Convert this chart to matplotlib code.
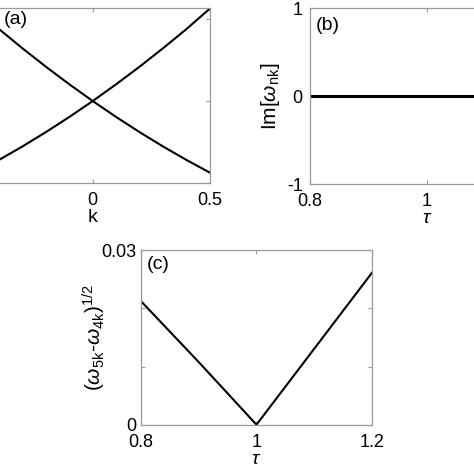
import matplotlib
matplotlib.use('Agg')
import matplotlib.pyplot as plt
import numpy as np

plt.rcParams['font.family'] = ['Liberation Sans', 'DejaVu Sans']
plt.rcParams['mathtext.fontset'] = 'custom'
plt.rcParams['mathtext.rm'] = 'Liberation Sans'
plt.rcParams['mathtext.it'] = 'Liberation Sans:italic'
plt.rcParams['font.size'] = 13

# (a) band frequencies vs k
k_vals = [-0.5, -0.4, -0.3, -0.2, -0.1, 0.0, 0.1, 0.2, 0.3, 0.4, 0.5]
omega_up = [0.825, 0.856, 0.889, 0.924, 0.961, 1.0, 1.041, 1.084, 1.129, 1.176, 1.226]
omega_down = omega_up[::-1]

# (b) imaginary part vs tau
tau_b = [0.8, 0.9, 1.0, 1.1, 1.2]
im_omega = [0, 0, 0, 0, 0]

# (c) gap vs tau
tau_c = [0.8, 0.9, 1.0, 1.1, 1.2]
gap = [0.0213, 0.0108, 0.0, 0.0131, 0.0262]

GRAY = '#999999'


def style(ax, ypad=3):
    for s in ax.spines.values():
        s.set_color(GRAY)
        s.set_linewidth(0.9)
    ax.tick_params(direction='in', length=3, width=0.8, color=GRAY,
                   top=True, right=True, labelsize=13)
    ax.tick_params(axis='x', pad=6.5)
    ax.tick_params(axis='y', pad=ypad)


fig = plt.figure(figsize=(4.74, 4.74), dpi=100)

ax_a = fig.add_axes([-0.0519, 0.614, 0.495, 0.369])
ax_a.plot(k_vals, omega_up, color='k', lw=1.5)
ax_a.plot(k_vals, omega_down, color='k', lw=1.5)
ax_a.set_xlim(-0.5, 0.5)
ax_a.set_ylim(0.8, 1.227)
ax_a.set_xticks([-0.5, 0, 0.5])
ax_a.set_xticklabels(['-0.5', '0', '0.5'])
ax_a.set_yticks([0.8, 1.0, 1.2])
ax_a.set_xlabel('k', labelpad=0, fontsize=14)
ax_a.text(0.12, 0.985, '(a)', transform=ax_a.transAxes, ha='left', va='top', fontsize=14)
style(ax_a)

ax_b = fig.add_axes([0.6534, 0.6118, 0.495, 0.371])
ax_b.plot(tau_b, im_omega, color='k', lw=2.2)
ax_b.set_xlim(0.8, 1.2)
ax_b.set_ylim(-1, 1)
ax_b.set_xticks([0.8, 1.0, 1.2])
ax_b.set_xticklabels(['0.8', '1', '1.2'])
ax_b.set_yticks([-1, 0, 1])
ax_b.set_yticklabels(['-1', '0', '1'])
ax_b.set_xlabel(r'$\tau$', labelpad=0, fontsize=14)
ax_b.set_ylabel(r'Im[$\omega_{\mathrm{nk}}$]', fontsize=15)
ax_b.yaxis.set_label_coords(-0.118, 0.5)
ax_b.text(0.025, 0.95, '(b)', transform=ax_b.transAxes, ha='left', va='top', fontsize=14)
style(ax_b, ypad=5)

ax_c = fig.add_axes([0.2968, 0.104, 0.4886, 0.368])
ax_c.plot(tau_c, gap, color='k', lw=1.5)
ax_c.set_xlim(0.8, 1.2)
ax_c.set_ylim(0, 0.03)
ax_c.set_xticks([0.8, 1.0, 1.2])
ax_c.set_xticklabels(['0.8', '1', '1.2'])
ax_c.set_yticks([0, 0.01, 0.02, 0.03])
ax_c.set_yticklabels(['0', '', '', '0.03'])
ax_c.set_xlabel(r'$\tau$', labelpad=0, fontsize=14)
ax_c.set_ylabel(r'($\omega_{\mathrm{5k}}$-$\omega_{\mathrm{4k}}$)$^{\mathrm{1/2}}$', fontsize=15)
ax_c.yaxis.set_label_coords(-0.14, 0.5)
ax_c.text(0.025, 0.97, '(c)', transform=ax_c.transAxes, ha='left', va='top', fontsize=14)
style(ax_c, ypad=3)

fig.savefig('out.png', dpi=100)
